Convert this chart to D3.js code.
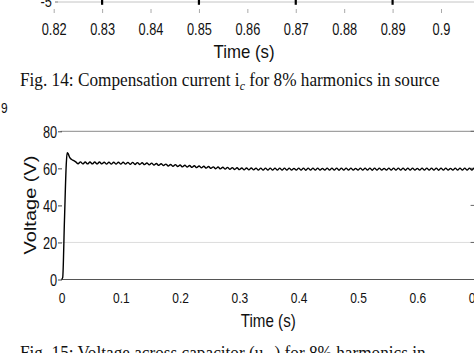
<!DOCTYPE html>
<html>
<head>
<meta charset="utf-8">
<script src="https://cdn.jsdelivr.net/npm/d3@7"></script>
<style>
html, body { margin: 0; padding: 0; background: #fff; overflow: hidden; }
svg { display: block; }
.sans { font-family: "Liberation Sans", Arial, sans-serif; fill: #111; }
.serif { font-family: "Liberation Serif", "Times New Roman", serif; fill: #111; }
</style>
</head>
<body>
<div id="chart"></div>
<script>
// Fig. 14 (only the bottom of it is in view)
const fig14Ticks = [0.82, 0.83, 0.84, 0.85, 0.86, 0.87, 0.88, 0.89, 0.90];
const fig14SpikeTimes = [0.83, 0.85, 0.87, 0.89];
const fig14SpikeLow = [-5.35, -5.35, -5.35, -5.35];

// Fig. 15: capacitor voltage
const transientTime = [0, 0.002, 0.005, 0.008, 0.0095, 0.011, 0.014, 0.017, 0.020];
const transientVolt = [0, 1, 32, 62, 68.4, 68.0, 65.8, 64.8, 64.3];

// ripple part, sampled every half ripple period
const rippleStart = 0.024;
const rippleStep = 0.004;
const rippleVolt = [
    63.5, 62.5, 63.5, 62.4, 63.4, 62.4, 63.4, 62.4, 63.4, 62.4,
    63.4, 62.4, 63.3, 62.3, 63.3, 62.3, 63.3, 62.3, 63.3, 62.3,
    63.3, 62.3, 63.2, 62.2, 63.2, 62.1, 63.1, 62.1, 63.0, 62.0,
    62.9, 61.9, 62.8, 61.8, 62.6, 61.6, 62.5, 61.5, 62.3, 61.3,
    62.1, 61.1, 62.0, 61.0, 61.8, 60.8, 61.7, 60.7, 61.5, 60.5,
    61.4, 60.4, 61.3, 60.3, 61.1, 60.1, 61.0, 60.0, 60.8, 59.8,
    60.7, 59.7, 60.6, 59.6, 60.5, 59.5, 60.4, 59.4, 60.3, 59.3,
    60.2, 59.2, 60.2, 59.2, 60.2, 59.2, 60.1, 59.1, 60.1, 59.1,
    60.1, 59.1, 60.1, 59.1, 60.1, 59.1, 60.1, 59.1, 60.1, 59.1,
    60.1, 59.1, 60.0, 59.1, 60.1, 59.1, 60.1, 59.0, 60.1, 59.1,
    60.1, 59.1, 60.1, 59.1, 60.0, 59.1, 60.1, 59.1, 60.1, 59.1,
    60.1, 59.0, 60.1, 59.1, 60.1, 59.1, 60.1, 59.1, 60.0, 59.1,
    60.1, 59.1, 60.1, 59.1, 60.1, 59.0, 60.1, 59.1, 60.1, 59.1,
    60.0, 59.1, 60.1, 59.1, 60.1, 59.1, 60.1, 59.1, 60.1, 59.0,
    60.1, 59.1, 60.1, 59.1, 60.0, 59.1, 60.1, 59.1, 60.1, 59.1,
    60.1, 59.1, 60.1, 59.0, 60.1, 59.1, 60.1, 59.1, 60.0, 59.1,
    60.1, 59.1, 60.1, 59.1, 60.1, 59.1, 60.1, 59.1, 60.1, 59.1
];

const xTicks15 = [0, 0.1, 0.2, 0.3, 0.4, 0.5, 0.6, 0.7];
const yTicks15 = [0, 20, 40, 60, 80];
const grid15 = [20];

// the scan is squeezed horizontally, so all text is too
const SX = 0.8;

const W = 474, H = 353;
const svg = d3.select('#chart').append('svg')
    .attr('width', W)
    .attr('height', H);

function squeezeText(sel, k) {
    sel.each(function () {
        const t = d3.select(this);
        const x = +t.attr('x') || 0;
        t.attr('transform', `translate(${x * (1 - k)},0) scale(${k},1)`);
    });
}

function fitText(sel, x, y, target) {
    const w = sel.node().getBBox().width;
    sel.attr('x', 0).attr('y', 0)
        .attr('transform', `translate(${x},${y}) scale(${target / w},1)`);
    return target / w;
}

// ---------- Fig. 14 remnant ----------
const x14 = d3.scaleLinear().domain([0.82, 0.90]).range([53.7, 441]);
const y14 = d3.scaleLinear().domain([-5, -4]).range([2, -6]);

svg.append('line')
    .attr('x1', 58).attr('x2', W)
    .attr('y1', y14(-5)).attr('y2', y14(-5))
    .attr('stroke', '#c4c4c4');

svg.append('text').attr('class', 'sans')
    .attr('x', 52).attr('y', 7)
    .attr('text-anchor', 'end')
    .attr('font-size', 16)
    .text('-5')
    .call(squeezeText, SX);

svg.append('line')
    .attr('x1', 55).attr('x2', 58)
    .attr('y1', y14(-5)).attr('y2', y14(-5))
    .attr('stroke', '#777');

svg.selectAll('.spike')
    .data(fig14SpikeTimes)
    .enter().append('line')
    .attr('class', 'spike')
    .attr('x1', d => x14(d)).attr('x2', d => x14(d))
    .attr('y1', y14(-4))
    .attr('y2', (d, i) => y14(fig14SpikeLow[i]))
    .attr('stroke', '#000')
    .attr('stroke-width', 2.2);

const ax14 = svg.append('g')
    .attr('transform', 'translate(0,9)')
    .call(d3.axisBottom(x14)
        .tickValues(fig14Ticks)
        .tickSize(4)
        .tickFormat(d3.format('~g')));
ax14.select('.domain').remove();
ax14.selectAll('.tick line').attr('stroke', '#aaa');
ax14.selectAll('.tick text')
    .attr('class', 'sans')
    .attr('font-size', 16)
    .attr('dy', null)
    .attr('y', 26)
    .attr('transform', `scale(${SX},1)`);

svg.append('text').attr('class', 'sans')
    .attr('text-anchor', 'middle')
    .attr('font-size', 18)
    .text('Time (s)')
    .call(fitText, 244, 57.5, 61);

const cap14 = svg.append('text').attr('class', 'serif')
    .attr('font-size', 19);
cap14.append('tspan').text('Fig. 14: Compensation current i');
cap14.append('tspan').attr('font-style', 'italic').attr('font-size', 13)
    .attr('dy', 4).text('c');
cap14.append('tspan').attr('dy', -4).text(' for 8% harmonics in source');
const capK = fitText(cap14, 20, 86, 420);

svg.append('text').attr('class', 'sans')
    .attr('font-size', 15)
    .attr('x', 1).attr('y', 113.5)
    .text('9')
    .call(squeezeText, SX);

// ---------- Fig. 15 ----------
const x = d3.scaleLinear().domain([0, 0.7]).range([61.5, 61.5 + 593 * 0.7]);
const y = d3.scaleLinear().domain([0, 80]).range([279.5, 131.3]);

const series = transientTime.map((t, i) => ({ t: t, v: transientVolt[i] }))
    .concat(rippleVolt.map((v, i) => ({ t: rippleStart + i * rippleStep, v: v })));

// grid
svg.selectAll('.grid15')
    .data(grid15)
    .enter().append('line')
    .attr('class', 'grid15')
    .attr('x1', x(0)).attr('x2', W)
    .attr('y1', d => y(d)).attr('y2', d => y(d))
    .attr('stroke', '#dcdcdc');

// top box edge
svg.append('line')
    .attr('x1', x(0) - 1).attr('x2', W)
    .attr('y1', y(80)).attr('y2', y(80))
    .attr('stroke', '#8a8a8a');

// right side ticks
svg.selectAll('.rtick')
    .data(yTicks15)
    .enter().append('line')
    .attr('class', 'rtick')
    .attr('x1', x(0.7) - 6).attr('x2', x(0.7))
    .attr('y1', d => y(d)).attr('y2', d => y(d))
    .attr('stroke', '#666');

// x axis
const xAxis = svg.append('g')
    .attr('transform', `translate(0,${y(0)})`)
    .call(d3.axisBottom(x)
        .tickValues(xTicks15)
        .tickSize(0)
        .tickFormat(d3.format('~g')));
xAxis.select('.domain')
    .attr('stroke', '#555')
    .attr('d', `M${x(0)},0H${W}`);
xAxis.selectAll('.tick text')
    .attr('class', 'sans')
    .attr('font-size', 15)
    .attr('dy', null)
    .attr('y', 23.8)
    .attr('transform', `scale(${SX},1)`);

// y axis
const yAxis = svg.append('g')
    .attr('transform', `translate(${x(0) + 0.5},0)`)
    .call(d3.axisLeft(y)
        .tickValues(yTicks15)
        .tickSize(4)
        .tickPadding(2));
yAxis.select('.domain').remove();
yAxis.selectAll('.tick line').attr('stroke', '#444');
yAxis.selectAll('.tick text')
    .attr('class', 'sans')
    .attr('font-size', 16)
    .attr('dy', '0.36em')
    .attr('transform', `scale(${SX},1)`);

// voltage line
const line = d3.line()
    .x(d => x(d.t))
    .y(d => y(d.v))
    .curve(d3.curveMonotoneX);

svg.append('path')
    .datum(series)
    .attr('fill', 'none')
    .attr('stroke', '#000')
    .attr('stroke-width', 1.4)
    .attr('stroke-linejoin', 'round')
    .attr('d', line);

// axis labels
svg.append('text').attr('class', 'sans')
    .attr('text-anchor', 'middle')
    .attr('font-size', 20)
    .attr('transform', `translate(35.5,205) scale(${SX},1) rotate(-90)`)
    .text('Voltage (V)');

svg.append('text').attr('class', 'sans')
    .attr('text-anchor', 'middle')
    .attr('font-size', 18)
    .text('Time (s)')
    .call(fitText, 268.3, 326.7, 55);

const cap15 = svg.append('text').attr('class', 'serif')
    .attr('font-size', 19)
    .attr('x', 0).attr('y', 0)
    .attr('transform', `translate(20,358.5) scale(${capK},1)`);
cap15.append('tspan').text('Fig. 15: Voltage across capacitor (u');
cap15.append('tspan').attr('font-size', 13).attr('dy', 4).text('dc');
cap15.append('tspan').attr('dy', -4).text(') for 8% harmonics in');
</script>
</body>
</html>
